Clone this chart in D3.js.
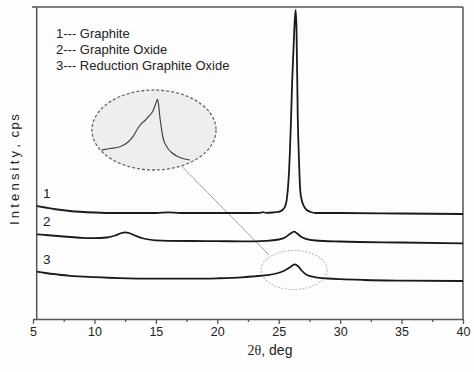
<!DOCTYPE html>
<html>
<head>
<meta charset="utf-8">
<title>XRD patterns</title>
<script src="https://d3js.org/d3.v7.min.js"></script>
<style>
  body { margin: 0; background: #fdfdfd; }
  text { font-family: "Liberation Sans", Arial, sans-serif; fill: #222; }
</style>
</head>
<body>
<svg id="chart" width="474" height="372"></svg>
<script>
// 2theta (deg) and intensity (cps, arbitrary offset)
var graphiteX = [5.3, 6, 7, 8, 10, 12, 15, 16, 17, 20, 22, 23.5, 23.7, 24, 24.5, 25, 25.3, 25.5, 25.65, 25.8, 25.9, 26, 26.1, 26.2, 26.3, 26.38, 26.45, 26.55, 26.65, 26.75, 26.87, 27, 27.28, 27.6, 28, 30, 35, 40];
var graphiteY = [1130, 1115, 1095, 1080, 1065, 1060, 1060, 1067, 1060, 1060, 1060, 1062, 1068, 1062, 1065, 1072, 1090, 1120, 1190, 1390, 1640, 1990, 2390, 2690, 2970, 3090, 2890, 2020, 1590, 1290, 1190, 1140, 1090, 1070, 1060, 1060, 1055, 1050];

var oxideX = [5.3, 6, 7, 8, 9, 10, 11, 11.7, 12.2, 12.5, 12.8, 13.3, 14, 15, 16, 18, 20, 22, 24, 25, 25.5, 25.9, 26.25, 26.5, 26.8, 27.2, 28, 30, 35, 40];
var oxideY = [847, 840, 830, 820, 812, 808, 815, 835, 860, 867, 860, 835, 805, 787, 782, 780, 778, 777, 782, 795, 815, 850, 873, 855, 825, 802, 785, 775, 765, 757];

var reducedX = [5.3, 6, 7, 8, 10, 12, 15, 18, 20, 22, 23, 24, 24.8, 25.4, 25.9, 26.3, 26.6, 26.9, 27.3, 28, 29, 30, 32, 35, 40];
var reducedY = [473, 460, 445, 432, 418, 408, 403, 403, 407, 417, 427, 438, 455, 480, 515, 547, 525, 480, 440, 417, 405, 398, 390, 384, 380];

// magnified peak of curve 3 (inset)
var insetX = [23.53, 23.95, 24.44, 24.84, 25.08, 25.33, 25.51, 25.68, 25.84, 25.97, 26.09, 26.2, 26.29, 26.35, 26.4, 26.47, 26.57, 26.75, 26.96, 27.24, 27.55, 27.9];
var insetY = [15, 16.5, 18.3, 23, 28.3, 37, 41.7, 44.5, 48.3, 51, 55, 61, 65.7, 60, 50, 39, 27, 18.3, 13, 9, 6.5, 5];

var xTicks = [5, 10, 15, 20, 25, 30, 35, 40];
var xMinor = [7.5, 12.5, 17.5, 22.5, 27.5, 32.5, 37.5];
var legendLines = ["1--- Graphite", "2--- Graphite Oxide", "3--- Reduction Graphite Oxide"];
var curveLabels = ["1", "2", "3"];

var svg = d3.select("#chart");

var x = d3.scaleLinear().domain([5, 40]).range([33, 463]);
var y = d3.scaleLinear().domain([0, 3120]).range([319, 7]);

var frame = "#555";

// frame
svg.append("line").attr("x1", 32).attr("x2", 463).attr("y1", 7).attr("y2", 7)
  .attr("stroke", frame).attr("stroke-width", 1.5);
svg.append("line").attr("x1", 463).attr("x2", 463).attr("y1", 7).attr("y2", 319)
  .attr("stroke", frame).attr("stroke-width", 1.5);
svg.append("line").attr("x1", 36.7).attr("x2", 36.7).attr("y1", 7).attr("y2", 319)
  .attr("stroke", frame).attr("stroke-width", 1.5);

// x axis
var xAxis = svg.append("g").attr("transform", "translate(0,319)")
  .call(d3.axisBottom(x).tickValues(xTicks).tickSize(5).tickSizeOuter(0).tickPadding(3));
xAxis.select(".domain").attr("stroke", frame).attr("stroke-width", 1.5);
xAxis.selectAll(".tick line").attr("stroke", frame).attr("stroke-width", 1.3);
xAxis.selectAll(".tick text").style("font-size", "12.5px").style("font-family", "Liberation Sans, Arial, sans-serif").attr("fill", "#222");

var xAxisMinor = svg.append("g").attr("transform", "translate(0,319)")
  .call(d3.axisBottom(x).tickValues(xMinor).tickSize(3).tickFormat(""));
xAxisMinor.select(".domain").remove();
xAxisMinor.selectAll(".tick line").attr("stroke", frame).attr("stroke-width", 1.3);

// axis titles
var xt = svg.append("text").attr("x", 270).attr("y", 355).attr("text-anchor", "middle")
  .style("font-size", "14px");
xt.append("tspan").style("font-family", "Liberation Serif, Times New Roman, serif").text("2θ");
xt.append("tspan").text(", deg");

var yt = svg.append("text")
  .attr("transform", "translate(19,225) rotate(-90)")
  .style("font-size", "13px");
yt.append("tspan").attr("letter-spacing", "3.2").text("Intensity");
yt.append("tspan").attr("letter-spacing", "1.5").text(", cps");

// legend
svg.selectAll(".legend").data(legendLines).enter().append("text")
  .attr("class", "legend")
  .attr("x", 56)
  .attr("y", function(d, i) { return 38 + i * 16; })
  .style("font-size", "13px")
  .text(function(d) { return d; });

// zoom annotation
var bigCx = x(14.85), bigCy = y(1890);
var smallCx = x(26.25), smallCy = y(490);

svg.append("line")
  .attr("x1", bigCx + 28).attr("y1", bigCy + 36.5)
  .attr("x2", smallCx - 25).attr("y2", smallCy - 15)
  .attr("stroke", "#999").attr("stroke-width", 0.9);

svg.append("ellipse")
  .attr("cx", bigCx).attr("cy", bigCy).attr("rx", 62).attr("ry", 40)
  .attr("fill", "#eeeeee").attr("stroke", "#666")
  .attr("stroke-width", 1.3).attr("stroke-dasharray", "3,2");

svg.append("ellipse")
  .attr("cx", smallCx).attr("cy", smallCy).attr("rx", 33).attr("ry", 19.5)
  .attr("fill", "none").attr("stroke", "#bbb")
  .attr("stroke-width", 1.1).attr("stroke-dasharray", "2,1.5");

var ix = d3.scaleLinear().domain([23.5, 28.0]).range([101, 192]);
var iy = d3.scaleLinear().domain([0, 70]).range([165, 95]);
var insetLine = d3.line()
  .x(function(d) { return ix(d[0]); })
  .y(function(d) { return iy(d[1]); })
  .curve(d3.curveMonotoneX);
svg.append("path")
  .datum(d3.zip(insetX, insetY))
  .attr("d", insetLine)
  .attr("fill", "none").attr("stroke", "#444").attr("stroke-width", 1.2);

// patterns
var line = d3.line()
  .x(function(d) { return x(d[0]); })
  .y(function(d) { return y(d[1]); })
  .curve(d3.curveMonotoneX);

var series = [d3.zip(graphiteX, graphiteY), d3.zip(oxideX, oxideY), d3.zip(reducedX, reducedY)];

svg.selectAll(".pattern").data(series).enter().append("path")
  .attr("class", "pattern")
  .attr("d", line)
  .attr("fill", "none").attr("stroke", "#1a1a1a").attr("stroke-width", 1.8)
  .attr("stroke-linejoin", "round");

svg.selectAll(".clabel").data(series).enter().append("text")
  .attr("class", "clabel")
  .attr("x", 43)
  .attr("y", function(d) { return y(d[0][1]) - 8; })
  .style("font-size", "13.5px")
  .text(function(d, i) { return curveLabels[i]; });
</script>
</body>
</html>
